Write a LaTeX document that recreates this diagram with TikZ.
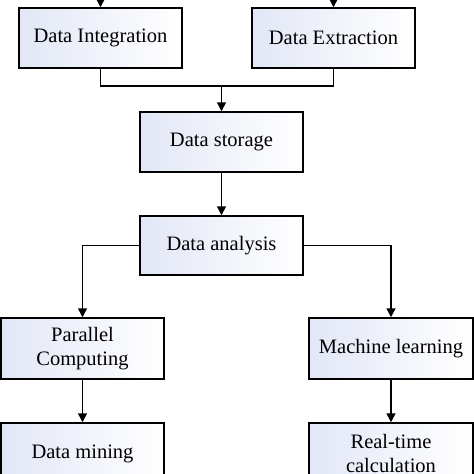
\documentclass[tikz,border=0pt]{standalone}
\usepackage{fontspec}
\setmainfont{Liberation Serif}
\usetikzlibrary{arrows.meta}
\definecolor{boxtint}{RGB}{226,231,246}
\begin{document}
\begin{tikzpicture}[x=1pt,y=-1pt,
  box/.style={draw=black, line width=1.5pt, left color=boxtint, right color=white,
    minimum width=163pt, minimum height=60pt, inner sep=0pt, align=center,
    font=\fontsize{20.5}{24}\selectfont},
  conn/.style={line width=1.5pt},
  arr/.style={line width=1.5pt, -{Triangle[length=9pt,width=9pt]}}]
\useasboundingbox (0,0) rectangle (474,474);
\node[box] (int) at (100.5,38) {Data Integration};
\node[box] (ext) at (333.5,38) {Data Extraction};
\node[box] (sto) at (221.5,142) {Data storage};
\node[box, minimum height=59pt] (ana) at (221.5,245.5) {Data analysis};
\node[box, minimum height=61pt] (par) at (82.5,348.5) {Parallel\\Computing};
\node[box, minimum height=61pt, minimum width=164pt] (mac) at (391,348.5) {Machine learning};
\node[box, minimum height=61pt] (min) at (82.5,453.5) {Data mining};
\node[box, minimum height=61pt, minimum width=164pt] (rt) at (391,453.5) {Real-time\\calculation};
\coordinate (inA) at (100.5,-2);
\coordinate (inB) at (333.5,-2);
\coordinate (jn) at (221.5,86);
\draw[arr] (inA) -- (int.north);
\draw[arr] (inB) -- (ext.north);
\draw[conn] (int.south) |- (jn);
\draw[conn] (ext.south) |- (jn);
\draw[arr] (jn) -- (sto.north);
\draw[arr] (sto.south) -- (ana.north);
\draw[arr] (ana.west) -| (par.north);
\draw[arr] (ana.east) -| (mac.north);
\draw[arr] (par.south) -- (min.north);
\draw[arr] (mac.south) -- (rt.north);
\end{tikzpicture}
\end{document}
